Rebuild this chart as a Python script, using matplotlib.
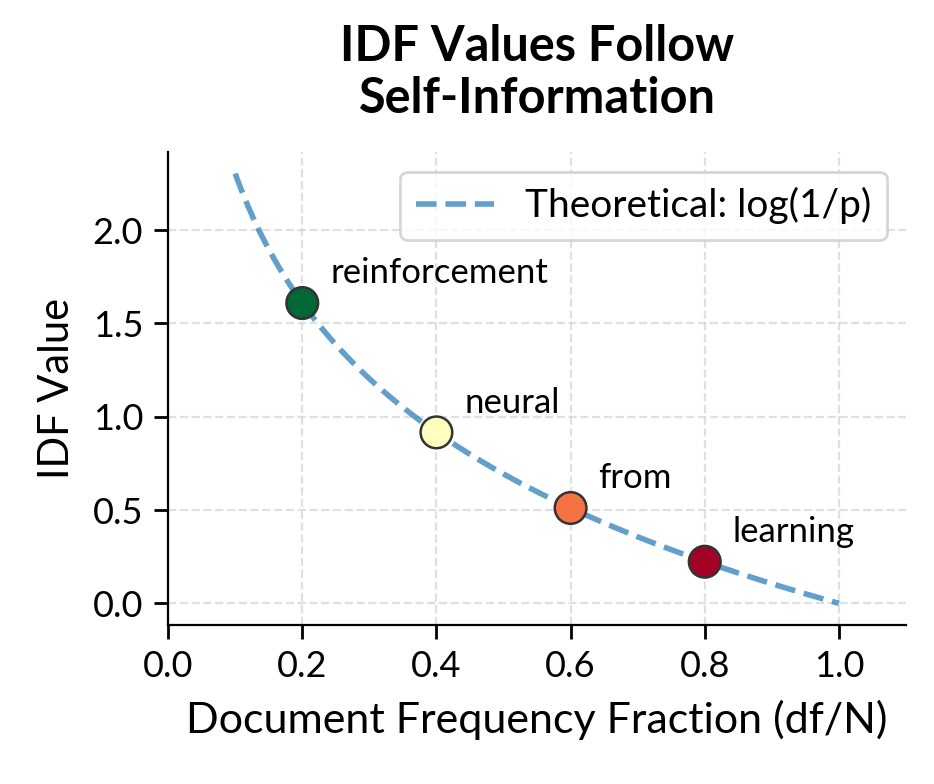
import numpy as np
import matplotlib.pyplot as plt
from matplotlib.colors import Normalize

plt.rcParams['font.family'] = ['Lato', 'DejaVu Sans']

# Data
words = ['reinforcement', 'neural', 'from', 'learning']
df_frac = [0.2, 0.4, 0.6, 0.8]
idf = [1.609, 0.916, 0.511, 0.223]

# theoretical curve log(1/p)
p = np.linspace(0.1, 1.0, 200)
theory = np.log(1.0/p)

fig = plt.figure(figsize=(4.67, 3.92), dpi=200)
ax = fig.add_axes([0.18, 0.203, 0.79, 0.603])

ax.plot(p, theory, '--', color='#1f77b4', alpha=0.7, lw=2.0, label='Theoretical: log(1/p)', zorder=2)

norm = Normalize(vmin=min(idf), vmax=max(idf))
ax.scatter(df_frac, idf, c=idf, cmap='RdYlGn', norm=norm, s=130,
           edgecolors='#333333', linewidths=0.9, zorder=3)

for w, xv, yv in zip(words, df_frac, idf):
    ax.annotate(w, (xv, yv), xytext=(10, 5), textcoords='offset points',
                fontsize=12.5, ha='left', va='bottom')

ax.set_xlim(0, 1.1)
ax.set_xticks([0.0, 0.2, 0.4, 0.6, 0.8, 1.0])
ax.set_yticks([0.0, 0.5, 1.0, 1.5, 2.0])
ax.tick_params(labelsize=13, length=5, width=1.0, pad=4)
ax.set_xlabel('Document Frequency Fraction (df/N)', fontsize=15.5, labelpad=6)
ax.set_ylabel('IDF Value', fontsize=15, labelpad=6)
ax.set_title('IDF Values Follow\nSelf-Information', fontsize=17.5, fontweight='bold', pad=14)
ax.grid(True, linestyle='--', color='#cccccc', alpha=0.6, lw=0.8)
ax.spines['top'].set_visible(False)
ax.spines['right'].set_visible(False)
ax.legend(loc='upper right', fontsize=14, framealpha=0.8)

fig.savefig('out.png')
